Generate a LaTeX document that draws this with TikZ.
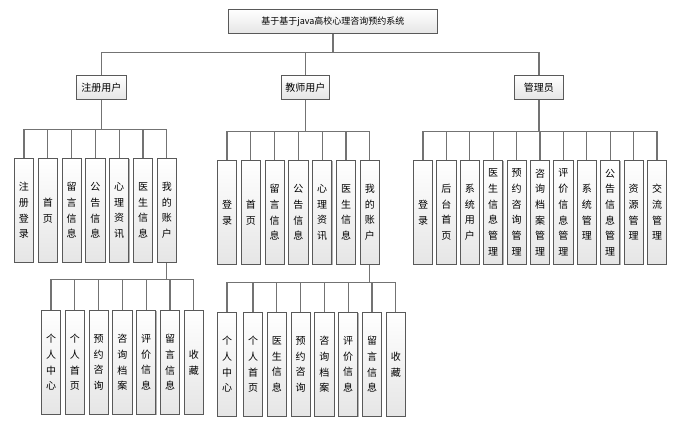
\documentclass[tikz,border=0pt]{standalone}
\usepackage{fontspec}
\setmainfont{Noto Sans CJK SC}
\usetikzlibrary{positioning, calc, shadows}

\begin{document}
\begin{tikzpicture}[
		x=1pt, y=1pt,
		% Estilos de las cajas del organigrama
		caja/.style = {draw=black!65, line width=0.8pt, top color=white, bottom color=black!10, inner sep=1pt, align=center, font=\fontsize{10}{15.7}\selectfont, drop shadow={shadow xshift=0.8pt, shadow yshift=-0.8pt, opacity=0.3, fill=black}},
		raiz/.style = {caja, minimum width=209pt, minimum height=24pt, font=\fontsize{9}{11}\selectfont},
		grupo/.style = {caja, minimum height=24pt},
		hoja/.style = {caja, minimum width=19.2pt, minimum height=104pt},
		linea/.style = {draw=black!55, line width=1.2pt},
		node distance=3.8pt
		]
		\useasboundingbox (0,0) rectangle (675,-423);
		
		% --- RAIZ Y GRUPOS ---
		\node [raiz, anchor=north west] (titulo) at (228,-9) {基于基于java高校心理咨询预约系统};
		\node [grupo, anchor=north west, minimum width=50pt] (reg) at (76,-75) {注册用户};
		\node [grupo, anchor=north west, minimum width=48pt] (doc) at (281,-75) {教师用户};
		\node [grupo, anchor=north west, minimum width=49pt] (adm) at (514,-75) {管理员};
		
		% --- USUARIO REGISTRADO ---
		\node [hoja, anchor=north west] (r1) at (14,-158) {注\\册\\登\\录};
		\node [hoja, right=of r1] (r2) {首\\页};
		\node [hoja, right=of r2] (r3) {留\\言\\信\\息};
		\node [hoja, right=of r3] (r4) {公\\告\\信\\息};
		\node [hoja, right=of r4] (r5) {心\\理\\资\\讯};
		\node [hoja, right=of r5] (r6) {医\\生\\信\\息};
		\node [hoja, right=of r6] (r7) {我\\的\\账\\户};
		
		% Cuenta del usuario registrado
		\node [hoja, anchor=north west] (rc1) at (41,-310) {个\\人\\中\\心};
		\node [hoja, right=of rc1] (rc2) {个\\人\\首\\页};
		\node [hoja, right=of rc2] (rc3) {预\\约\\咨\\询};
		\node [hoja, right=of rc3] (rc4) {咨\\询\\档\\案};
		\node [hoja, right=of rc4] (rc5) {评\\价\\信\\息};
		\node [hoja, right=of rc5] (rc6) {留\\言\\信\\息};
		\node [hoja, right=of rc6] (rc7) {收\\藏};
		
		% --- USUARIO PROFESOR ---
		\node [hoja, anchor=north west] (d1) at (217,-160) {登\\录};
		\node [hoja, right=of d1] (d2) {首\\页};
		\node [hoja, right=of d2] (d3) {留\\言\\信\\息};
		\node [hoja, right=of d3] (d4) {公\\告\\信\\息};
		\node [hoja, right=of d4] (d5) {心\\理\\资\\讯};
		\node [hoja, right=of d5] (d6) {医\\生\\信\\息};
		\node [hoja, right=of d6] (d7) {我\\的\\账\\户};
		
		% Cuenta del profesor
		\node [hoja, anchor=north west] (dc1) at (217,-312) {个\\人\\中\\心};
		\node [hoja, right=6pt of dc1] (dc2) {个\\人\\首\\页};
		\node [hoja, right=of dc2] (dc3) {医\\生\\信\\息};
		\node [hoja, right=of dc3] (dc4) {预\\约\\咨\\询};
		\node [hoja, right=of dc4] (dc5) {咨\\询\\档\\案};
		\node [hoja, right=of dc5] (dc6) {评\\价\\信\\息};
		\node [hoja, right=of dc6] (dc7) {留\\言\\信\\息};
		\node [hoja, right=of dc7] (dc8) {收\\藏};
		
		% --- ADMINISTRADOR ---
		\node [hoja, anchor=north west] (a1) at (413,-160) {登\\录};
		\node [hoja, right=3.4pt of a1] (a2) {后\\台\\首\\页};
		\node [hoja, right=3.4pt of a2] (a3) {系\\统\\用\\户};
		\node [hoja, right=3.4pt of a3] (a4) {医\\生\\信\\息\\管\\理};
		\node [hoja, right=3.4pt of a4] (a5) {预\\约\\咨\\询\\管\\理};
		\node [hoja, right=3.4pt of a5] (a6) {咨\\询\\档\\案\\管\\理};
		\node [hoja, right=3.4pt of a6] (a7) {评\\价\\信\\息\\管\\理};
		\node [hoja, right=3.4pt of a7] (a8) {系\\统\\管\\理};
		\node [hoja, right=3.4pt of a8] (a9) {公\\告\\信\\息\\管\\理};
		\node [hoja, right=3.4pt of a9] (a10) {资\\源\\管\\理};
		\node [hoja, right=3.4pt of a10] (a11) {交\\流\\管\\理};
		
		% --- CONEXIONES ---
		\coordinate (b0) at ($(titulo.south)+(0,-19)$);
		\draw [linea] (titulo.south) -- (b0) -| (reg.north) (b0) -| (doc.north) (b0) -| (adm.north);
		
		\coordinate (breg) at ($(reg.south)+(0,-30)$);
		\draw [linea] (reg.south) -- (breg) -| (r1.north) (breg) -| (r2.north) (breg) -| (r3.north)
			(breg) -| (r4.north) (breg) -| (r5.north) (breg) -| (r6.north) (breg) -| (r7.north);
		
		\coordinate (brc) at ($(r7.south)+(0,-17)$);
		\draw [linea] (r7.south) -- (brc) -| (rc1.north) (brc) -| (rc2.north) (brc) -| (rc3.north)
			(brc) -| (rc4.north) (brc) -| (rc5.north) (brc) -| (rc6.north) (brc) -| (rc7.north);
		
		\coordinate (bdoc) at ($(doc.south)+(0,-32)$);
		\draw [linea] (doc.south) -- (bdoc) -| (d1.north) (bdoc) -| (d2.north) (bdoc) -| (d3.north)
			(bdoc) -| (d4.north) (bdoc) -| (d5.north) (bdoc) -| (d6.north) (bdoc) -| (d7.north);
		
		\coordinate (bdc) at ($(d7.south)+(0,-18)$);
		\draw [linea] (d7.south) -- (bdc) -| (dc1.north) (bdc) -| (dc2.north) (bdc) -| (dc3.north)
			(bdc) -| (dc4.north) (bdc) -| (dc5.north) (bdc) -| (dc6.north) (bdc) -| (dc7.north)
			(bdc) -| (dc8.north);
		
		\coordinate (badm) at ($(adm.south)+(0,-32)$);
		\draw [linea] (adm.south) -- (badm) -| (a1.north) (badm) -| (a2.north) (badm) -| (a3.north)
			(badm) -| (a4.north) (badm) -| (a5.north) (badm) -| (a6.north) (badm) -| (a7.north)
			(badm) -| (a8.north) (badm) -| (a9.north) (badm) -| (a10.north) (badm) -| (a11.north);
		
	\end{tikzpicture}
\end{document}
